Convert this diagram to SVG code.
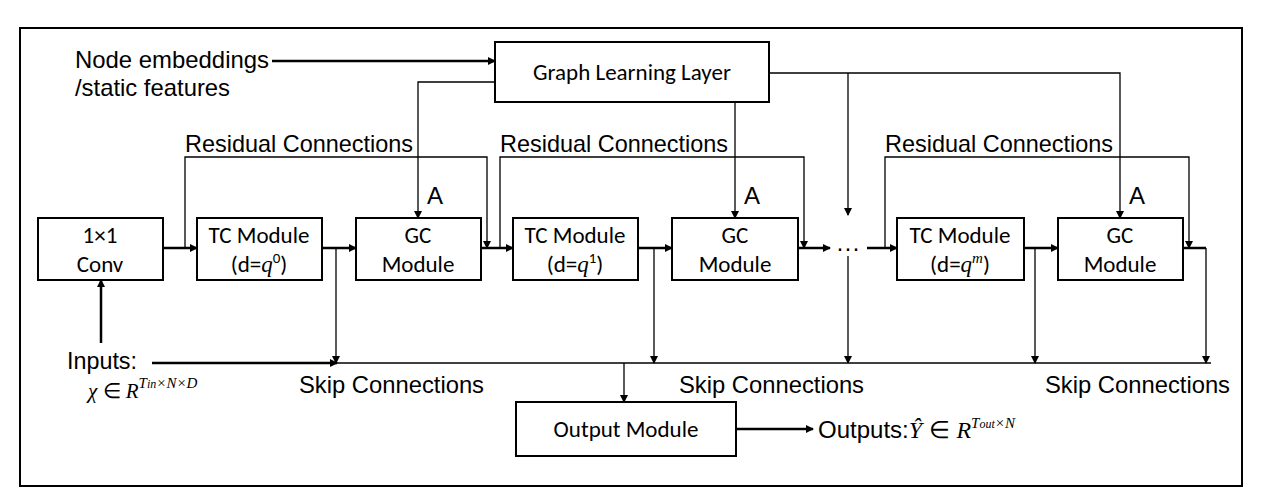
<svg xmlns="http://www.w3.org/2000/svg" width="1270" height="501" viewBox="0 0 1270 501">
<style>
.box{fill:#fff;stroke:#000;stroke-width:2}
.t{font-family:"Liberation Sans",Arial,sans-serif;font-size:24px;fill:#000}
.c{font-family:Carlito,Calibri,"Open Sans","Liberation Sans",sans-serif;font-size:23px;fill:#000;text-anchor:middle}
.m{font-family:"Liberation Serif",serif;font-style:italic;fill:#000}
.thick{stroke:#000;stroke-width:2.5;fill:none}
.thin{stroke:#000;stroke-width:1.3;fill:none}
</style>
<defs>
<marker id="ah" markerWidth="8" markerHeight="8" refX="7" refY="4" orient="auto" markerUnits="userSpaceOnUse"><path d="M0,0 L8,4 L0,8 z" fill="#000"/></marker>
</defs>
<rect x="20" y="28" width="1222" height="458" fill="#fff" stroke="#000" stroke-width="2"/>
<g id="conv"><rect class="box" x="38" y="218" width="125" height="62"/><text class="c" x="100" y="243">1×1</text><text class="c" x="100" y="272">Conv</text></g>
<g id="tc0"><rect class="box" x="197" y="218" width="125" height="62"/><text class="c" x="259" y="243">TC Module</text><text class="c" x="259" y="272">(d=<tspan class="m">q</tspan><tspan dy="-9" font-size="15">0</tspan><tspan dy="9">)</tspan></text></g>
<g id="gc1"><rect class="box" x="356" y="218" width="125" height="62"/><text class="c" x="418" y="243">GC</text><text class="c" x="418" y="272">Module</text></g>
<g id="tc1"><rect class="box" x="513" y="218" width="125" height="62"/><text class="c" x="575" y="243">TC Module</text><text class="c" x="575" y="272">(d=<tspan class="m">q</tspan><tspan dy="-9" font-size="15">1</tspan><tspan dy="9">)</tspan></text></g>
<g id="gc2"><rect class="box" x="672" y="218" width="126" height="62"/><text class="c" x="735" y="243">GC</text><text class="c" x="735" y="272">Module</text></g>
<g id="tcm"><rect class="box" x="897" y="218" width="127" height="62"/><text class="c" x="960" y="243">TC Module</text><text class="c" x="960" y="272">(d=<tspan class="m">q</tspan><tspan dy="-9" font-size="15" class="m">m</tspan><tspan dy="9">)</tspan></text></g>
<g id="gcm"><rect class="box" x="1058" y="218" width="125" height="62"/><text class="c" x="1120" y="243">GC</text><text class="c" x="1120" y="272">Module</text></g>
<g id="graph"><rect class="box" x="495" y="42" width="274" height="60"/><text class="c" x="632" y="80" font-size="21">Graph Learning Layer</text></g>
<g id="output"><rect class="box" x="516" y="402" width="220" height="54"/><text class="c" x="626" y="437" font-size="21">Output Module</text></g>
<g id="labels">
<text class="t" x="75" y="68" textLength="194" lengthAdjust="spacingAndGlyphs">Node embeddings</text>
<text class="t" x="75" y="96" textLength="155" lengthAdjust="spacingAndGlyphs">/static features</text>
<text class="t" x="185" y="152" textLength="228" lengthAdjust="spacingAndGlyphs">Residual Connections</text>
<text class="t" x="500" y="152" textLength="228" lengthAdjust="spacingAndGlyphs">Residual Connections</text>
<text class="t" x="885" y="152" textLength="228" lengthAdjust="spacingAndGlyphs">Residual Connections</text>
<text class="t" x="427" y="204">A</text>
<text class="t" x="744" y="204">A</text>
<text class="t" x="1129" y="204">A</text>
<text class="t" x="848" y="256" text-anchor="middle">···</text>
<text class="t" x="67" y="369" textLength="70" lengthAdjust="spacingAndGlyphs">Inputs:</text>
<text class="m" x="88" y="398" font-size="21">χ <tspan font-style="normal">∈</tspan> R<tspan dy="-10" font-size="15">T<tspan font-size="12">in</tspan>×N×D</tspan></text>
<text class="t" x="299" y="393" textLength="185" lengthAdjust="spacingAndGlyphs">Skip Connections</text>
<text class="t" x="679" y="393" textLength="185" lengthAdjust="spacingAndGlyphs">Skip Connections</text>
<text class="t" x="1045" y="393" textLength="185" lengthAdjust="spacingAndGlyphs">Skip Connections</text>
<text class="t" x="818" y="438">Outputs:<tspan class="m">Ŷ</tspan> ∈ <tspan class="m">R<tspan dy="-10" font-size="15">T<tspan font-size="12">out</tspan>×N</tspan></tspan></text>
</g>
<g id="connectors">
<path class="thick" d="M272,61 H495" marker-end="url(#ah)"/>
<path class="thin" d="M495,82 H418 V218" marker-end="url(#ah)"/>
<path class="thin" d="M735,102 V218" marker-end="url(#ah)"/>
<path class="thin" d="M769,73 H1120 V218" marker-end="url(#ah)"/>
<path class="thin" d="M848,73 V215" marker-end="url(#ah)"/>
<path class="thick" d="M163,248 H197" marker-end="url(#ah)"/>
<path class="thick" d="M322,248 H356" marker-end="url(#ah)"/>
<path class="thick" d="M481,248 H513" marker-end="url(#ah)"/>
<path class="thick" d="M638,248 H672" marker-end="url(#ah)"/>
<path class="thick" d="M798,248 H830" marker-end="url(#ah)"/>
<path class="thick" d="M867,248 H897" marker-end="url(#ah)"/>
<path class="thick" d="M1024,248 H1058" marker-end="url(#ah)"/>
<path class="thick" d="M1183,248 H1206"/>
<path class="thin" d="M185,248 V157 H487 V248" marker-end="url(#ah)"/>
<path class="thin" d="M500,248 V157 H804 V248" marker-end="url(#ah)"/>
<path class="thin" d="M885,248 V157 H1189 V248" marker-end="url(#ah)"/>
<path class="thick" d="M101,343 V280" marker-end="url(#ah)"/>
<path class="thick" d="M152,363 H337" marker-end="url(#ah)"/>
<path class="thin" d="M337,363 H1211"/>
<path class="thin" d="M336,248 V363" marker-end="url(#ah)"/>
<path class="thin" d="M654,248 V363" marker-end="url(#ah)"/>
<path class="thin" d="M848,256 V363" marker-end="url(#ah)"/>
<path class="thin" d="M1035,248 V363" marker-end="url(#ah)"/>
<path class="thin" d="M1206,248 V363" marker-end="url(#ah)"/>
<path class="thin" d="M624,363 V402" marker-end="url(#ah)"/>
<path class="thick" d="M736,429 H813" marker-end="url(#ah)"/>
</g>
</svg>
